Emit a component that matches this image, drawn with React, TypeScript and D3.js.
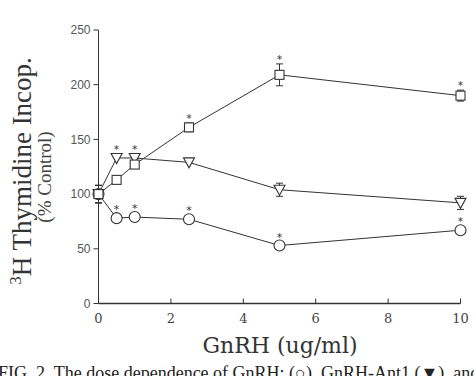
import React from "react";
import * as d3 from "d3";

const doses = [0, 0.5, 1, 2.5, 5, 10];
const squareVals = [100, 113, 127, 161, 209, 190];
const squareErr = [8, 0, 3, 4, 10, 5];
const squareStar = [false, false, false, true, true, true];
const triVals = [100, 133, 133, 129, 104, 92];
const triErr = [8, 0, 3, 0, 6, 6];
const triStar = [false, true, true, false, false, false];
const circVals = [100, 78, 79, 77, 53, 67];
const circErr = [8, 0, 0, 0, 0, 0];
const circStar = [false, true, true, true, true, true];
const yTicks = [0, 50, 100, 150, 200, 250];
const xTicks = [0, 2, 4, 6, 8, 10];

const W = 474, H = 376;
const x = d3.scaleLinear().domain([0, 10]).range([98.5, 460.5]);
const y = d3.scaleLinear().domain([0, 250]).range([303.5, 30]);
const ink = "#333";
const SERIF = "'Liberation Serif', 'Times New Roman', serif";

function Series({ vals, err, star, shape }: { vals: number[]; err: number[]; star: boolean[]; shape: string }) {
  const line = d3.line<number>().x((_, i) => x(doses[i])).y((v) => y(v));
  return (
    <g>
      <path d={line(vals) || ""} fill="none" stroke={ink} strokeWidth={1} />
      {vals.map((v, i) => {
        const cx = x(doses[i]);
        const cy = y(v);
        const e = err[i];
        const top = y(v + e), bot = y(v - e);
        let mark;
        if (shape === "square") mark = <rect x={cx - 4.5} y={cy - 4.5} width={9} height={9} fill="white" stroke={ink} strokeWidth={1.1} />;
        else if (shape === "circle") mark = <circle cx={cx} cy={cy} r={5.5} fill="white" stroke={ink} strokeWidth={1.1} />;
        else mark = <path d={`M${cx - 5.5},${cy - 4.5}L${cx + 5.5},${cy - 4.5}L${cx},${cy + 5.5}Z`} fill="white" stroke={ink} strokeWidth={1.1} />;
        const starY = Math.min(cy - 6, e > 0 ? top - 2 : cy) - 2;
        return (
          <g key={i}>
            {e > 0 && (
              <g stroke={ink} strokeWidth={1}>
                <line x1={cx} x2={cx} y1={top} y2={bot} />
                <line x1={cx - 3.5} x2={cx + 3.5} y1={top} y2={top} />
                <line x1={cx - 3.5} x2={cx + 3.5} y1={bot} y2={bot} />
              </g>
            )}
            {mark}
            {star[i] && (
              <text x={cx} y={starY + 3} textAnchor="middle" fontSize={11} fontFamily="DejaVu Sans" fill={ink}>*</text>
            )}
          </g>
        );
      })}
    </g>
  );
}

export default function App() {
  return (
    <svg width={W} height={H} style={{ position: "absolute", left: 0, top: 0, background: "white" }}>
      <line x1={x(0)} x2={x(0)} y1={y(0)} y2={y(250)} stroke={ink} strokeWidth={1} />
      <line x1={x(0)} x2={x(10)} y1={y(0)} y2={y(0)} stroke={ink} strokeWidth={1.3} />
      {yTicks.map((t) => (
        <g key={t}>
          <line x1={x(0) - 5} x2={x(0)} y1={y(t)} y2={y(t)} stroke={ink} />
          <text x={x(0) - 8} y={y(t)} dy="0.35em" textAnchor="end" fontSize={12} fontFamily="Liberation Sans" fill="#555">{t}</text>
        </g>
      ))}
      {xTicks.map((t) => (
        <g key={t}>
          <line x1={x(t)} x2={x(t)} y1={y(0)} y2={y(0) - 5} stroke={ink} />
          <text x={x(t)} y={y(0) + 19} textAnchor="middle" fontSize={13} fontFamily="DejaVu Serif" fill="#444">{t}</text>
        </g>
      ))}
      <text x={280} y={353} textAnchor="middle" fontSize={22} fontFamily="DejaVu Serif" fill="#333">GnRH (ug/ml)</text>
      <g transform="translate(31,171) rotate(-90)">
        <text x={0} y={0} textAnchor="middle" fontSize={27} style={{ fontFamily: SERIF }} fill="#333">
          <tspan fontSize={17} dy={-10}>3</tspan>
          <tspan dy={10}>H Thymidine Incop.</tspan>
        </text>
      </g>
      <g transform="translate(51,177) rotate(-90)">
        <text x={0} y={0} textAnchor="middle" fontSize={19} style={{ fontFamily: SERIF }} fill="#444">(% Control)</text>
      </g>
      <Series vals={circVals} err={circErr} star={circStar} shape="circle" />
      <Series vals={triVals} err={triErr} star={triStar} shape="tri" />
      <Series vals={squareVals} err={squareErr} star={squareStar} shape="square" />
      <text x={-2} y={379} fontSize={18} style={{ fontFamily: SERIF }} fill="#222">FIG. 2. The dose dependence of GnRH: (○), GnRH-Ant1 (▼), and</text>
    </svg>
  );
}
